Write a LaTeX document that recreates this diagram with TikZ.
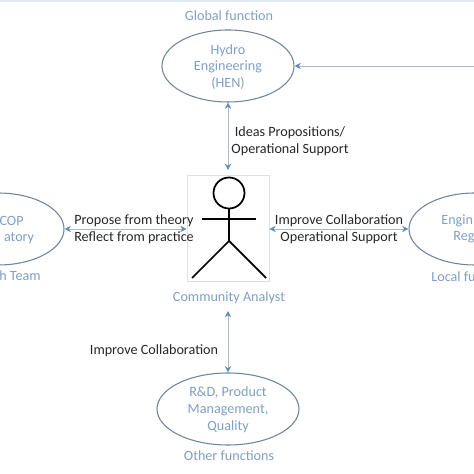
\documentclass[tikz,border=0pt]{standalone}
\usepackage{fontspec}
\setmainfont{Carlito}
\usetikzlibrary{arrows.meta, shapes.geometric}
\definecolor{funcblue}{HTML}{7F9FC4}
\definecolor{edgegray}{HTML}{6F8499}
\definecolor{linkblue}{HTML}{A9BACF}
\definecolor{tipblue}{HTML}{5F8DBE}
\definecolor{boxgray}{HTML}{DDE0E3}
\definecolor{bandblue}{HTML}{DDEBF7}
\tikzset{
    unit/.style={ellipse, draw=edgegray, line width=0.6pt, inner sep=0pt, minimum height=1.44cm, align=center, text=funcblue},
    blue text/.style={text=funcblue, inner sep=0pt, align=center},
    black text/.style={text=black!85, inner sep=0pt, align=center},
    link/.style={draw=linkblue, line width=0.55pt, {Stealth[color=tipblue, length=3.6pt, width=3.6pt]}-{Stealth[color=tipblue, length=3.6pt, width=3.6pt]}},
    stick/.style={draw=black, line width=1pt}
}
\begin{document}
\begin{tikzpicture}[font=\fontsize{8.05}{9.6}\selectfont]
    \path[use as bounding box, clip] (0,0) rectangle (9.48,9.48);
    \fill[bandblue] (0,9.43) rectangle (9.48,9.48);

    \node[unit, minimum width=2.64cm] (hydro) at (4.56,8.16) {};
    \node[unit, minimum width=2.64cm] (lab) at (-0.04,4.90) {};
    \node[unit, minimum width=2.64cm] (regional) at (9.50,4.90) {};
    \node[unit, minimum width=2.84cm] (rnd) at (4.56,1.30) {};
    \node[draw=boxgray, line width=0.5pt, minimum width=1.64cm, minimum height=2.12cm, inner sep=0pt] (actor) at (4.56,4.92) {};

    \node[circle, stick, minimum size=0.62cm, inner sep=0pt] (head) at (4.58,5.62) {};
    \coordinate (hip) at (4.58,4.66);
    \coordinate (armL) at (4.04,5.10);
    \coordinate (armR) at (5.12,5.10);
    \coordinate (footL) at (3.84,3.92);
    \coordinate (footR) at (5.32,3.92);
    \draw[stick] (head.south) -- (hip);
    \draw[stick] (armL) -- (armR);
    \draw[stick] (footL) -- (hip) -- (footR);

    \node[blue text] (hydrotext) at (4.56,8.14) {Hydro\\Engineering\\(HEN)};
    \node[blue text] (rndtext) at (4.56,1.28) {R\&D, Product\\Management,\\Quality};
    \node[blue text] (global) at (4.58,9.16) {Global function};
    \node[blue text] (analyst) at (4.58,3.52) {Community Analyst};
    \node[blue text] (other) at (4.58,0.36) {Other functions};
    \node[blue text, anchor=east] (cop) at (0.48,5.07) {COP};
    \node[blue text, anchor=east] (atory) at (0.69,4.71) {atory};
    \node[blue text, anchor=east] (team) at (0.82,3.96) {h Team};
    \node[blue text, anchor=west] (engin) at (8.82,5.07) {Engin};
    \node[blue text, anchor=west] (reg) at (9.06,4.73) {Reg};
    \node[blue text, anchor=west] (local) at (8.62,3.94) {Local fu};

    \node[black text] (ideas) at (5.80,6.65) {Ideas Propositions/\\Operational Support};
    \node[black text] (theory) at (2.68,4.89) {Propose from theory\\Reflect from practice};
    \node[black text] (improve) at (6.78,4.89) {Improve Collaboration\\Operational Support};
    \node[black text] (collab) at (3.08,2.46) {Improve Collaboration};

    \coordinate (incoming) at (9.48,8.16);
    \coordinate (topend) at (4.56,6.08);
    \coordinate (botend) at (4.56,3.26);
    \draw[link, {Stealth[color=tipblue, length=3.6pt, width=3.6pt]}-] (hydro.east) -- (incoming);
    \draw[link] (hydro.south) -- (topend);
    \draw[link] (lab.east) -- (lab.east -| actor.west);
    \draw[link] (actor.east |- regional.west) -- (regional.west);
    \draw[link] (botend) -- (rnd.north);
\end{tikzpicture}
\end{document}
